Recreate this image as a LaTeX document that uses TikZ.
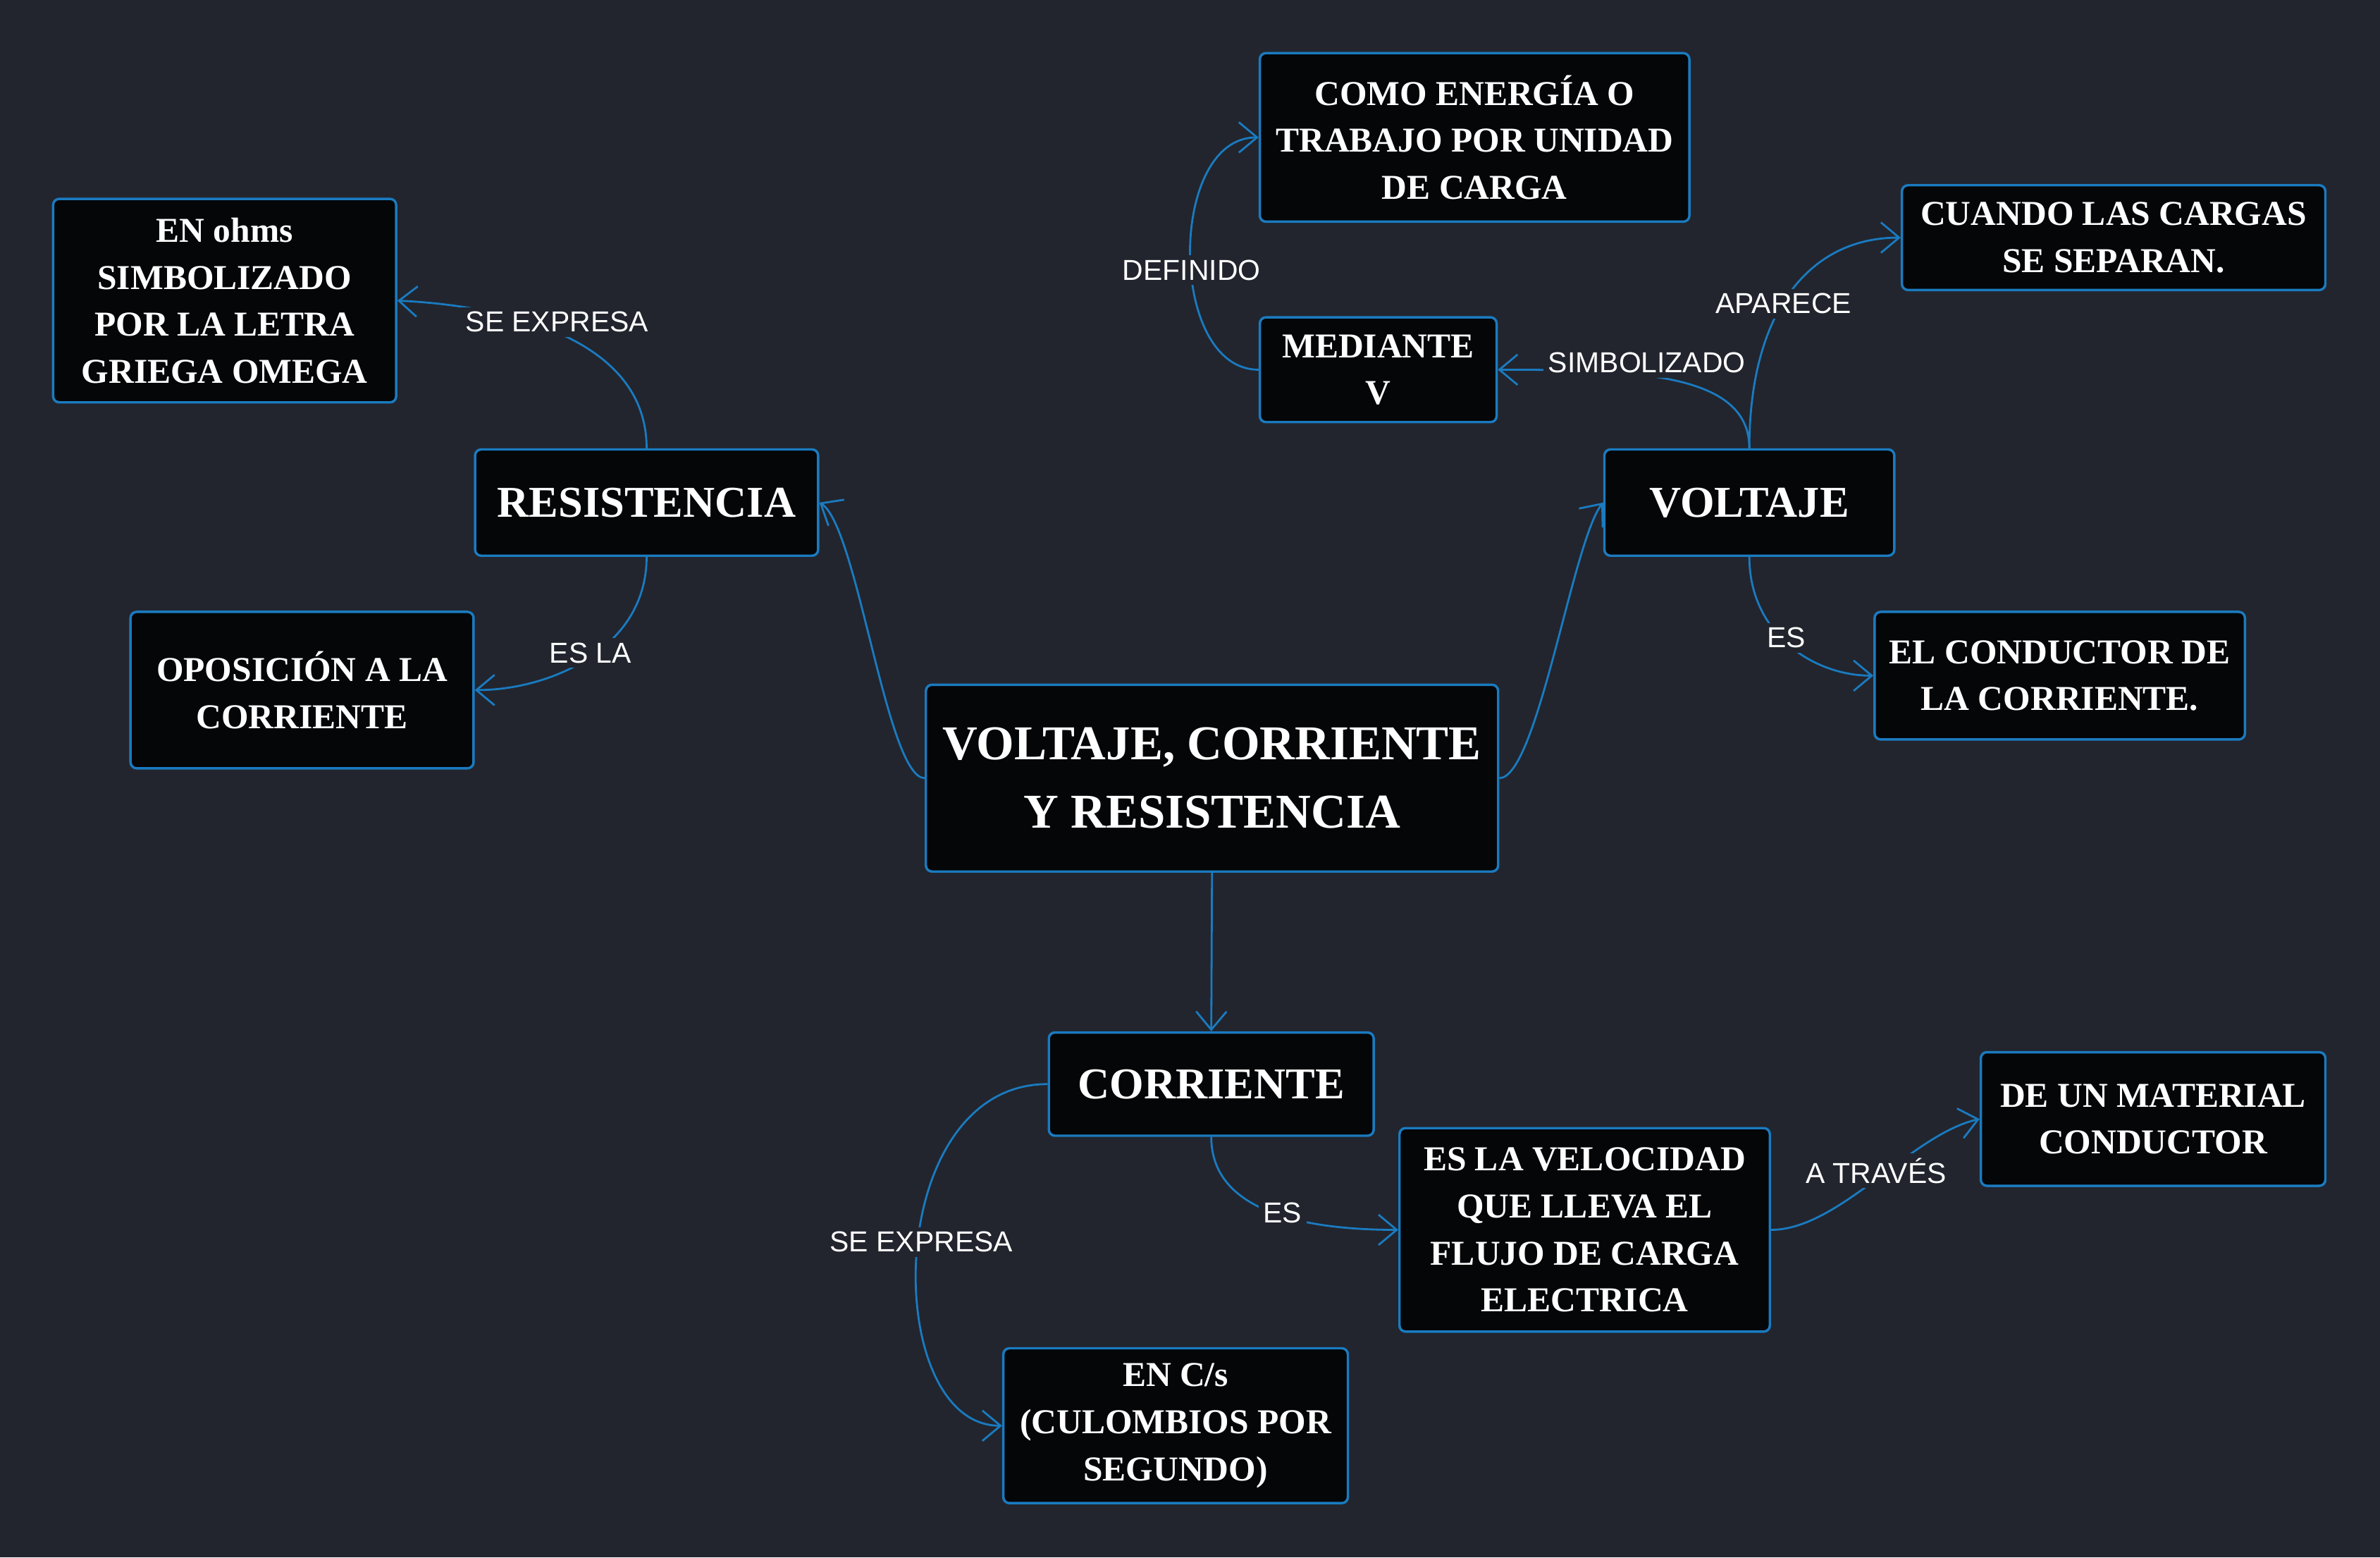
\documentclass[tikz,border=0pt]{standalone}
\usepackage{fontspec}
\setmainfont{Liberation Serif}
\newfontfamily\lblfont{Liberation Sans}
\usetikzlibrary{arrows.meta}
\definecolor{bgc}{HTML}{22252E}
\definecolor{boxfill}{HTML}{050608}
\definecolor{edgeblue}{HTML}{1A7BC0}
\tikzset{
  box/.style={draw=edgeblue, line width=1.6pt, fill=boxfill, rounded corners=4pt, text=white, align=center, inner sep=0pt, font=\bfseries\fontsize{23}{31}\selectfont},
  bigbox/.style={box, font=\bfseries\fontsize{29}{36}\selectfont},
  hugebox/.style={box, font=\bfseries\fontsize{32}{45}\selectfont},
  conn/.style={draw=edgeblue, line width=1.3pt, -{Straight Barb[length=12pt,width=20pt]}},
  lbl/.style={fill=bgc, text=white, font=\lblfont\fontsize{19}{22}\selectfont, inner sep=3pt}
}
\begin{document}
\begin{tikzpicture}[x=1pt,y=-1pt]
\fill[bgc] (0,0) rectangle (1568,1025.7);
\useasboundingbox (0,0) rectangle (1568,1025.7);

% nodes
\node[hugebox, minimum width=377pt, minimum height=123pt] (central) at (798.5,512.5) {VOLTAJE, CORRIENTE\\Y RESISTENCIA};
\node[bigbox, minimum width=226pt, minimum height=70pt] (res) at (426,331) {RESISTENCIA};
\node[bigbox, minimum width=191pt, minimum height=70pt] (volt) at (1152.5,331) {VOLTAJE};
\node[bigbox, minimum width=214pt, minimum height=68pt] (corr) at (798,714) {CORRIENTE};
\node[box, minimum width=226pt, minimum height=134pt] (ohms) at (148,198) {EN ohms\\SIMBOLIZADO\\POR LA LETRA\\GRIEGA OMEGA};
\node[box, minimum width=226pt, minimum height=103pt] (opos) at (199,454.5) {OPOSICIÓN A LA\\CORRIENTE};
\node[box, minimum width=283pt, minimum height=111pt] (como) at (971.5,90.5) {COMO ENERGÍA O\\TRABAJO POR UNIDAD\\DE CARGA};
\node[box, minimum width=156pt, minimum height=69pt] (mediante) at (908,243.5) {MEDIANTE\\V};
\node[box, minimum width=279pt, minimum height=69pt] (cuando) at (1392.5,156.5) {CUANDO LAS CARGAS\\SE SEPARAN.};
\node[box, minimum width=244pt, minimum height=84pt] (elcond) at (1357,445) {EL CONDUCTOR DE\\LA CORRIENTE.};
\node[box, minimum width=244pt, minimum height=134pt] (vel) at (1044,810) {ES LA VELOCIDAD\\QUE LLEVA EL\\FLUJO DE CARGA\\ELECTRICA};
\node[box, minimum width=227pt, minimum height=88pt] (mat) at (1418.5,737) {DE UN MATERIAL\\CONDUCTOR};
\node[box, minimum width=227pt, minimum height=102pt] (cs) at (774.5,939) {EN C/s\\(CULOMBIOS POR\\SEGUNDO)};

% connectors
\draw[conn] (central.west) .. controls +(-25,0) and +(25,15) .. (res.east);
\draw[conn] (central.east) .. controls +(25,0) and +(-20,25) .. (volt.west);
\draw[conn] (central.south) -- (corr.north);
\draw[conn] (res.north) .. controls +(0,-75) and +(65,3) .. (ohms.east);
\draw[conn] (res.south) .. controls +(0,60) and +(50,0) .. (opos.east);
\draw[conn] (volt.north) .. controls +(0,-50) and +(90,0) .. (mediante.east);
\draw[conn] (volt.north) .. controls +(0,-90) and +(-60,0) .. (cuando.west);
\draw[conn] (volt.south) .. controls +(0,50) and +(-40,0) .. (elcond.west);
\draw[conn] (mediante.west) .. controls +(-60,0) and +(-60,0) .. (como.west);
\draw[conn] (corr.south) .. controls +(0,50) and +(-60,0) .. (vel.west);
\draw[conn] (corr.west) .. controls +(-110,0) and +(-80,0) .. (cs.west);
\draw[conn] (vel.east) .. controls +(45,0) and +(-45,10) .. (mat.west);

% labels
\node[lbl] (l1) at (367,212) {SE EXPRESA};
\node[lbl] (l2) at (389,430) {ES LA};
\node[lbl] (l3) at (785,178) {DEFINIDO};
\node[lbl] (l4) at (1085,239) {SIMBOLIZADO};
\node[lbl] (l5) at (1175,200) {APARECE};
\node[lbl] (l6) at (1177,420) {ES};
\node[lbl] (l7) at (845,799) {ES};
\node[lbl] (l8) at (607,818) {SE EXPRESA};
\node[lbl] (l9) at (1236,771) {A TRAVÉS};
\end{tikzpicture}
\end{document}
